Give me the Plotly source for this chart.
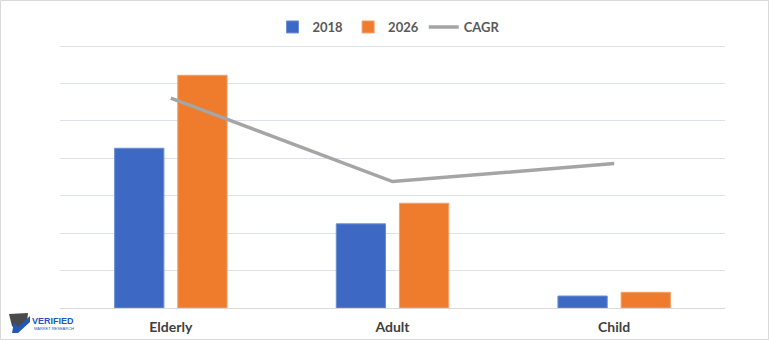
import plotly.graph_objects as go

categories = ["Elderly", "Adult", "Child"]
values_2018 = [4.27, 2.25, 0.32]
values_2026 = [6.22, 2.80, 0.42]
cagr = [5.61, 3.38, 3.86]

W, H = 769, 340
L, R, T, B = 60, 44, 45, 32
PW, PH = W - L - R, H - T - B

def px(x):
    return (x - L) / PW

def py(y):
    return (H - B - y) / PH

fig = go.Figure()
fig.add_trace(go.Bar(name="2018", x=categories, y=values_2018,
                     marker=dict(color="#3D69C4", line=dict(color="#6A8FD6", width=1))))
fig.add_trace(go.Bar(name="2026", x=categories, y=values_2026,
                     marker=dict(color="#EF7B2C", line=dict(color="#F4A06A", width=1))))
fig.add_trace(go.Scatter(name="CAGR", x=categories, y=cagr, mode="lines",
                         line=dict(color="#A5A5A5", width=3.5)))

shapes = [
    dict(type="rect", xref="paper", yref="paper",
         x0=px(0.5), x1=px(768.5), y0=py(339.5), y1=py(0.5),
         line=dict(color="#D9D9D9", width=1), fillcolor="rgba(0,0,0,0)", layer="below"),
    # logo mark
    dict(type="path", xref="paper", yref="paper",
         path=f"M {px(9)},{py(314)} L {px(28)},{py(313)} L {px(27)},{py(322)} L {px(18)},{py(332)} L {px(12)},{py(326)} Z",
         fillcolor="#4A4A4A", line=dict(width=0)),
    dict(type="path", xref="paper", yref="paper",
         path=f"M {px(14)},{py(322)} L {px(18)},{py(327)} L {px(30)},{py(316)} L {px(30)},{py(322)} L {px(18)},{py(333)} L {px(12)},{py(333)} Z",
         fillcolor="#2358B8", line=dict(width=0)),
]

annotations = [
    dict(text="<b>VERIFIED</b>", xref="paper", yref="paper", x=px(30), y=py(321),
         xanchor="left", yanchor="middle", showarrow=False,
         font=dict(family="Liberation Sans", size=9, color="#2358B8")),
    dict(text="MARKET RESEARCH", xref="paper", yref="paper", x=px(32), y=py(328),
         xanchor="left", yanchor="middle", showarrow=False,
         font=dict(family="Liberation Sans", size=4, color="#2358B8")),
]

fig.update_layout(
    width=W, height=H,
    margin=dict(l=L, r=R, t=T, b=B, autoexpand=False),
    paper_bgcolor="white", plot_bgcolor="white",
    barmode="group", bargap=0.43, bargroupgap=0.22,
    font=dict(family="Lato", color="#595959"),
    legend=dict(orientation="h", x=px(389), xanchor="center", y=py(27), yanchor="middle",
                font=dict(size=13, color="#595959", weight="bold"),
                itemwidth=30, tracegroupgap=0),
    xaxis=dict(showgrid=False, showline=True, linecolor="#D9D9D9", linewidth=1,
               tickfont=dict(size=14, color="#404040", weight="bold"), ticks="",
               ticklabelstandoff=6, automargin=False, fixedrange=True),
    yaxis=dict(range=[0, 7.03], tickvals=[1, 2, 3, 4, 5, 6, 7], showgrid=True,
               gridcolor="#DCE1EA", gridwidth=1, automargin=False,
               showticklabels=False, zeroline=False, fixedrange=True),
    shapes=shapes,
    annotations=annotations,
)

fig.write_html("out.html")
